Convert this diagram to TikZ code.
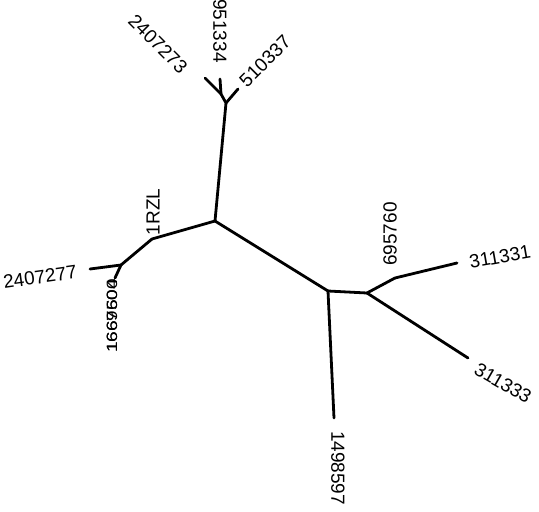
\documentclass[tikz,border=0pt]{standalone}
\usepackage{fontspec}
\setmainfont{Liberation Sans}
\begin{document}
\begin{tikzpicture}[x=1pt,y=-1pt,
  edge/.style={line width=2.8pt,line cap=round,line join=round},
  lbl/.style={inner sep=0pt,font=\fontsize{19}{19}\selectfont}]
\useasboundingbox (0,0) rectangle (539,512);
% internal nodes
\coordinate (A) at (215,221);
\coordinate (F1) at (226,103);
\coordinate (F2) at (221,94);
\coordinate (B) at (152,239);
\coordinate (C) at (121,265);
\coordinate (D) at (328,291);
\coordinate (E) at (367,293);
\coordinate (F) at (395,278);
% leaves
\coordinate (l2407273) at (205,78);
\coordinate (l951334) at (220,79);
\coordinate (l510337) at (238,89);
\coordinate (l2407277) at (90,269);
\coordinate (l1669600) at (115,278);
\coordinate (l1498597) at (334,418);
\coordinate (l311331) at (457,263);
\coordinate (l311333) at (468,358);
% edges
\draw[edge] (A) -- (F1);
\draw[edge] (F1) -- (F2);
\draw[edge] (F2) -- (l2407273);
\draw[edge] (F2) -- (l951334);
\draw[edge] (F1) -- (l510337);
\draw[edge] (A) -- (B);
\draw[edge] (B) -- (C);
\draw[edge] (C) -- (l2407277);
\draw[edge] (C) -- (l1669600);
\draw[edge] (A) -- (D);
\draw[edge] (D) -- (l1498597);
\draw[edge] (D) -- (E);
\draw[edge] (E) -- (F);
\draw[edge] (F) -- (l311331);
\draw[edge] (E) -- (l311333);
% labels
\node[lbl,rotate=-90] (t951334) at (220,31) {951334};
\node[lbl,rotate=-45] (t2407273) at (158,44) {2407273};
\node[lbl,rotate=45] (t510337) at (265,61) {510337};
\node[lbl,rotate=90] (t1RZL) at (153,212) {1RZL};
\node[lbl,rotate=8] (t2407277) at (40,277) {2407277};
\node[lbl,rotate=90,yscale=0.78] (t1669600) at (112,316) {1669600};
\node[lbl,rotate=90,yscale=0.78] (t1667504) at (112,316) {1667504};
\node[lbl,rotate=90] (t695760) at (390,234) {695760};
\node[lbl,rotate=10] (t311331) at (500,257) {311331};
\node[lbl,rotate=-30] (t311333) at (503,383) {311333};
\node[lbl,rotate=-90] (t1498597) at (338,468) {1498597};
\end{tikzpicture}
\end{document}
